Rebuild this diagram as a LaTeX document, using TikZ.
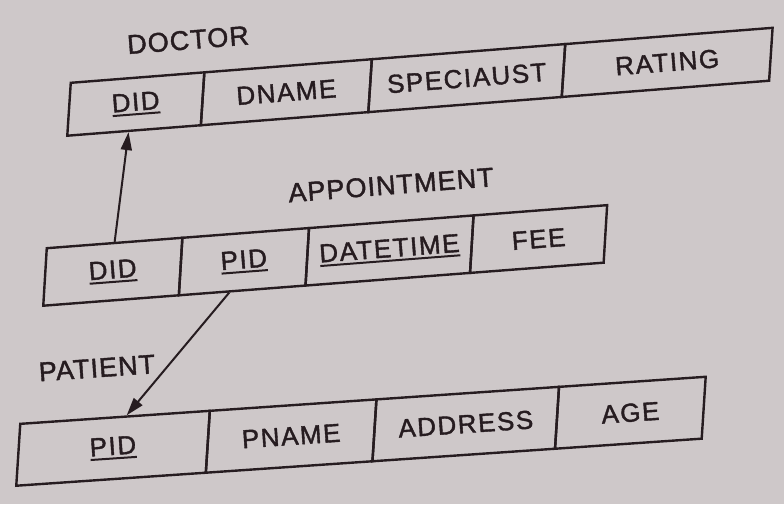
\documentclass[tikz,border=0pt]{standalone}
\usepackage{fontspec}
\setmainfont{Liberation Sans}
\newfontface\cellface{Liberation Sans}[FakeBold=1.5,LetterSpace=6]
\newfontface\titleface{Liberation Sans}[FakeBold=1.5,LetterSpace=4]
\usetikzlibrary{arrows.meta,calc}
\definecolor{paper}{RGB}{206,200,201}
\definecolor{ink}{RGB}{38,28,32}
\newcommand\keyu[1]{\setbox0\hbox{#1}\rlap{\color{ink}\rule[-4.5pt]{\wd0}{2pt}}\box0}
\tikzset{fkhead/.tip={Triangle[length=18pt,width=11pt]}}
\begin{document}
\begin{tikzpicture}[x=1pt,y=1pt,
  cell/.style={draw=ink, line width=2.4pt, inner sep=0pt, anchor=south west, transform shape},
  lab/.style={text=ink, font=\fontsize{26pt}{30pt}\cellface, inner sep=0pt},
  title/.style={text=ink, font=\fontsize{27pt}{30pt}\titleface, inner sep=0pt},
  fk/.style={draw=ink, fill=ink, line width=2pt, -fkhead}]
\fill[paper] (0,0) rectangle (784,504);
\useasboundingbox (0,0) rectangle (784,504);
% DOCTOR
\begin{scope}[cm={0.9969,0.0781,0.066,0.998,(66pt,367pt)}]
\node[cell, minimum width=134pt, minimum height=53pt] (dDID) at (0,0) {};
\node[cell, minimum width=168pt, minimum height=53pt] (dDNAME) at (134,0) {};
\node[cell, minimum width=194pt, minimum height=53pt] (dSPEC) at (302,0) {};
\node[cell, minimum width=208pt, minimum height=53pt] (dRATING) at (496,0) {};
\end{scope}
\node[lab, rotate=4.5] (dDIDt) at (dDID.center) {\keyu{DID}};
\node[lab, rotate=4.5] (dDNAMEt) at (dDNAME.center) {DNAME};
\node[lab, rotate=4.5] (dSPECt) at (dSPEC.center) {SPECIAUST};
\node[lab, rotate=4.5] (dRATINGt) at (dRATING.center) {RATING};
% APPOINTMENT
\begin{scope}[cm={0.9971,0.0766,0.0608,0.9982,(42pt,197pt)}]
\node[cell, minimum width=136pt, minimum height=57.6pt] (aDID) at (0,0) {};
\node[cell, minimum width=127pt, minimum height=57.6pt] (aPID) at (136,0) {};
\node[cell, minimum width=165pt, minimum height=57.6pt] (aDT) at (263,0) {};
\node[cell, minimum width=134pt, minimum height=57.6pt] (aFEE) at (428,0) {};
\end{scope}
\node[lab, rotate=4.4] (aDIDt) at (aDID.center) {\keyu{DID}};
\node[lab, rotate=4.4] (aPIDt) at (aPID.center) {\keyu{PID}};
\node[lab, rotate=4.4] (aDTt) at (aDT.center) {\keyu{DATETIME}};
\node[lab, rotate=4.4] (aFEEt) at (aFEE.center) {FEE};
% PATIENT
\begin{scope}[cm={0.9977,0.0685,0.0644,0.9979,(15pt,17pt)}]
\node[cell, minimum width=190pt, minimum height=62pt] (pPID) at (0,0) {};
\node[cell, minimum width=167pt, minimum height=62pt] (pPNAME) at (190,0) {};
\node[cell, minimum width=183pt, minimum height=62pt] (pADDR) at (357,0) {};
\node[cell, minimum width=147pt, minimum height=62pt] (pAGE) at (540,0) {};
\end{scope}
\node[lab, rotate=3.9] (pPIDt) at (pPID.center) {\keyu{PID}};
\node[lab, rotate=3.9] (pPNAMEt) at (pPNAME.center) {PNAME};
\node[lab, rotate=3.9] (pADDRt) at (pADDR.center) {ADDRESS};
\node[lab, rotate=3.9] (pAGEt) at (pAGE.center) {AGE};
% titles
\node[title, rotate=4.5] (tDoc) at (188,464) {DOCTOR};
\node[title, rotate=4.5] (tApp) at (391,319) {APPOINTMENT};
\node[title, rotate=4] (tPat) at (97,136) {PATIENT};
% foreign keys
\coordinate (fk1s) at ($(aDID.north west)!0.5!(aDID.north east)$);
\coordinate (fk1e) at ($(dDID.south west)!0.46!(dDID.south east)$);
\coordinate (fk2s) at ($(aPID.south west)!0.4!(aPID.south east)$);
\coordinate (fk2e) at ($(pPID.north west)!0.56!(pPID.north east)$);
\draw[fk] (fk1s) -- (fk1e);
\draw[fk] (fk2s) -- (fk2e);
\end{tikzpicture}
\end{document}
